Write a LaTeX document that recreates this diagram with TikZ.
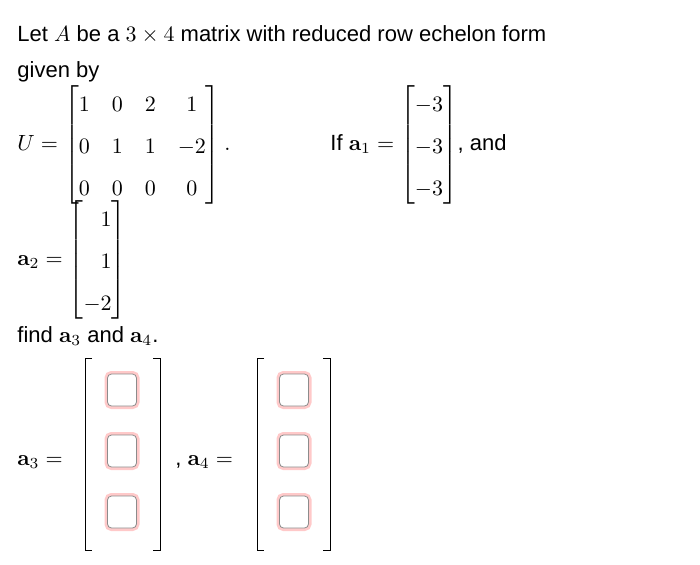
\documentclass[tikz,border=0pt]{standalone}
\usepackage{amsmath}
\usepackage[no-math]{fontspec}
\setmainfont{Liberation Sans}
\begin{document}
\begin{tikzpicture}[x=1pt,y=-1pt,
  txt/.style={anchor=base west,inner sep=0pt,scale=2.2,transform shape},
  mat/.style={anchor=west,inner sep=0pt,scale=2.2,transform shape},
  brk/.style={line width=1pt},
  ansbox/.style={draw=black!45,line width=0.8pt,fill=white,rounded corners=4pt,minimum width=29pt,minimum height=32pt,
    preaction={draw=red!35,line width=6pt,rounded corners=6pt,opacity=0.6}}]
\fill[white] (0,0) rectangle (700,564);
\useasboundingbox (0,0) rectangle (700,564);
\renewcommand\arraystretch{1.6}
\node[txt] (l1) at (17,42) {Let $A$ be a $3\times 4$ matrix with reduced row echelon form};
\node[txt] (l2) at (17,78) {given by};
\node[mat] (U) at (17,145) {$U=\begin{bmatrix}1&0&2&1\\0&1&1&-2\\0&0&0&0\end{bmatrix}.$};
\node[mat] (a1) at (330,145) {If $\mathbf{a}_1=\begin{bmatrix}-3\\-3\\-3\end{bmatrix}$, and};
\node[mat] (a2) at (17,260) {$\mathbf{a}_2=\begin{bmatrix}\phantom{-}1\\\phantom{-}1\\-2\end{bmatrix}$};
\node[txt] (l3) at (17,342) {find $\mathbf{a}_3$ and $\mathbf{a}_4$.};
\node[mat] (a3l) at (17,462) {$\mathbf{a}_3=$};
\node[mat] (a4l) at (175,462) {, $\mathbf{a}_4=$};
\draw[brk] (92,358) -- (85,358) -- (85,550) -- (92,550);
\draw[brk] (153,358) -- (160,358) -- (160,550) -- (153,550);
\node[ansbox] (b1) at (122,390) {};
\node[ansbox] (b2) at (122,451) {};
\node[ansbox] (b3) at (122,512) {};
\draw[brk] (264,358) -- (257,358) -- (257,550) -- (264,550);
\draw[brk] (323,358) -- (330,358) -- (330,550) -- (323,550);
\node[ansbox] (c1) at (294,390) {};
\node[ansbox] (c2) at (294,451) {};
\node[ansbox] (c3) at (294,512) {};
\end{tikzpicture}
\end{document}
